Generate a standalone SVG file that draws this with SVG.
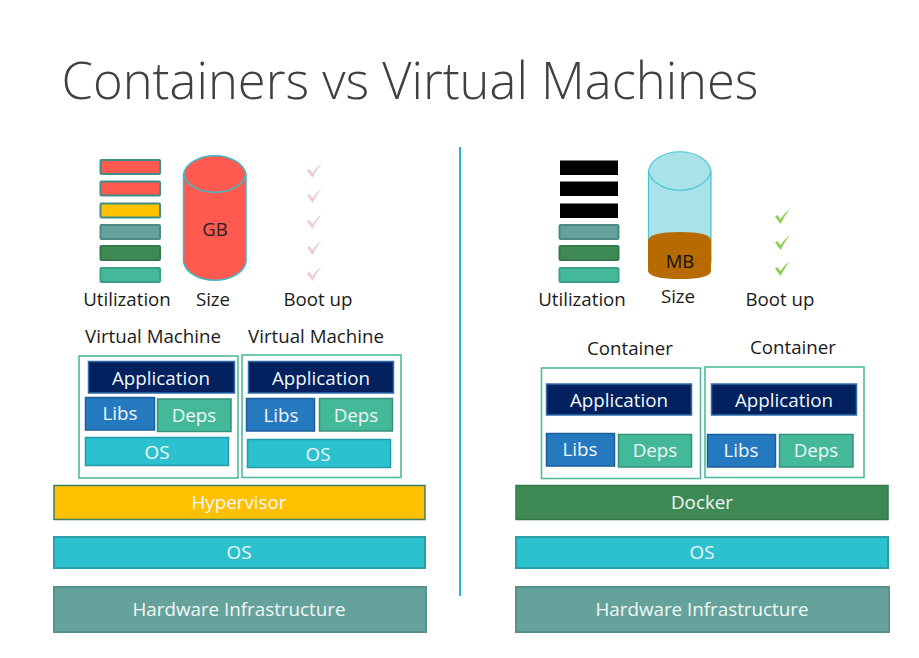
<svg xmlns="http://www.w3.org/2000/svg" width="919" height="658" viewBox="0 0 919 658">
<style>
text{font-family:"Open Sans","Noto Sans","Liberation Sans",sans-serif;text-anchor:middle}
.w{fill:#f2f8f8;font-size:18.800px}
.k{fill:#1a1a1a;font-size:18.700px}
.red{fill:#fe5a50;stroke:#3f8f86;stroke-width:2}
.yel{fill:#ffc000;stroke:#3f8f86;stroke-width:2}
.gry{fill:#66a29c;stroke:#4e8a85;stroke-width:2}
.grn{fill:#3f8955;stroke:#35794a;stroke-width:2}
.tea{fill:#44b999;stroke:#3a9f87;stroke-width:2}
.blk{fill:#000}
.app{fill:#03205f;stroke:#2f6ea8;stroke-width:1.500}
.lib{fill:#2579bf;stroke:#1c5f9c;stroke-width:1.500}
.dep{fill:#44b999;stroke:#35907c;stroke-width:1.500}
.os{fill:#2bc1cf;stroke:#239aa8;stroke-width:1.500}
.box{fill:#fff;stroke:#4fbb9e;stroke-width:1.600}
.ck{stroke:none}
</style>
<defs>
<path id="tick" d="M0 7.500 L2.500 6 L5.500 10 Q9.500 4 15 0 Q10 6 5.500 15 Z"/>
</defs>
<rect width="919" height="658" fill="#fff"/>
<text x="410" y="99" style="font-size:50.700px;font-weight:300;fill:#404040">Containers vs Virtual Machines</text>
<g id="connectors"><line x1="460" y1="147" x2="460" y2="596" stroke="#2bb5c8" stroke-width="2"/></g>

<g id="vm-utilization">
<rect class="red" x="100.500" y="160" width="59.500" height="14" rx="1"/>
<rect class="red" x="100.500" y="181.500" width="59.500" height="14" rx="1"/>
<rect class="yel" x="100.500" y="203.500" width="59.500" height="14" rx="1"/>
<rect class="gry" x="100.500" y="225" width="59.500" height="14" rx="1"/>
<rect class="grn" x="100.500" y="246" width="59.500" height="14" rx="1"/>
<rect class="tea" x="100.500" y="268" width="59.500" height="14" rx="1"/>
<text class="k" x="127" y="306">Utilization</text>
</g>
<g id="vm-size">
<path d="M183.500 174 A31.500 21 0 0 1 246 174 V262 A31.500 21 0 0 1 183.500 262 Z" fill="#fe5a50" stroke="#3cbcc6" stroke-width="1.500"/>
<path d="M183.500 174 A31.500 21 0 0 0 246 174" fill="none" stroke="#3cbcc6" stroke-width="1.500"/>
<text x="215" y="236" style="font-size:18.500px;fill:#222">GB</text>
<text class="k" x="213" y="306">Size</text>
</g>
<g id="vm-bootup" fill="#eecbd8">
<use class="ck" href="#tick" x="307" y="163"/>
<use class="ck" href="#tick" x="307" y="188"/>
<use class="ck" href="#tick" x="307" y="214"/>
<use class="ck" href="#tick" x="307" y="240"/>
<use class="ck" href="#tick" x="307" y="266"/>
<text class="k" x="318" y="306">Boot up</text>
</g>

<g id="vm-1">
<text class="k" x="153" y="343">Virtual Machine</text>
<rect class="box" x="79" y="356" width="159" height="122"/>
<rect class="app" x="88.500" y="361.500" width="146" height="31.500"/>
<text class="w" x="161" y="384.500">Application</text>
<rect class="lib" x="85.500" y="397.500" width="69" height="32.500"/>
<text class="w" x="120" y="420">Libs</text>
<rect class="dep" x="157.500" y="399" width="73.500" height="32.500"/>
<text class="w" x="194" y="422">Deps</text>
<rect class="os" x="85.500" y="437.500" width="143" height="28"/>
<text class="w" x="157" y="458.500">OS</text>
</g>
<g id="vm-2">
<text class="k" x="316" y="343">Virtual Machine</text>
<rect class="box" x="242" y="355" width="159" height="122.500"/>
<rect class="app" x="248.500" y="361.500" width="145" height="31.500"/>
<text class="w" x="321" y="384.500">Application</text>
<rect class="lib" x="246.500" y="398.500" width="68" height="32.500"/>
<text class="w" x="281" y="422">Libs</text>
<rect class="dep" x="319.500" y="398.500" width="73" height="32.500"/>
<text class="w" x="356" y="422">Deps</text>
<rect class="os" x="247.500" y="439.500" width="143" height="28"/>
<text class="w" x="318" y="461">OS</text>
</g>

<g id="hypervisor">
<rect x="54" y="485.500" width="371" height="34" fill="#ffc000" stroke="#3f7f66" stroke-width="1.500"/>
<text class="w" x="239" y="509">Hypervisor</text>
</g>
<g id="os-left">
<rect x="54" y="537" width="371" height="31" fill="#2bc1cf" stroke="#2a9fa8" stroke-width="2"/>
<text class="w" x="239" y="559">OS</text>
</g>
<g id="hw-left">
<rect x="54" y="587" width="372" height="45" fill="#66a29c" stroke="#56918c" stroke-width="2"/>
<text class="w" x="239" y="616">Hardware Infrastructure</text>
</g>

<g id="ct-utilization">
<rect class="blk" x="560" y="160.500" width="58" height="14.500"/>
<rect class="blk" x="560" y="181.500" width="58" height="14.500"/>
<rect class="blk" x="560" y="203.500" width="58" height="14.500"/>
<rect class="gry" x="559.500" y="225" width="59" height="14" rx="1"/>
<rect class="grn" x="559.500" y="246" width="59" height="14" rx="1"/>
<rect class="tea" x="559.500" y="268" width="59" height="14" rx="1"/>
<text class="k" x="582" y="306">Utilization</text>
</g>
<g id="ct-size">
<path d="M648.500 171 A31.500 22 0 0 1 711 171 V262 A31.500 16 0 0 1 648.500 262 Z" fill="#a9e3e9" stroke="#46c5d2" stroke-width="1.200"/>
<path d="M648.500 171 A31.500 22 0 0 0 711 171" fill="none" stroke="#46c5d2" stroke-width="1.200"/>
<path d="M648 240 Q650 232 680 232 Q710 232 711 240 V271 Q710 279 680 279 Q650 279 648 271 Z" fill="#b76a00"/>
<text x="680" y="268" style="font-size:18.500px;fill:#111">MB</text>
<text class="k" x="678" y="303">Size</text>
</g>
<g id="ct-bootup" fill="#8fcf57">
<use class="ck" href="#tick" x="775" y="209"/>
<use class="ck" href="#tick" x="775" y="235"/>
<use class="ck" href="#tick" x="775" y="261"/>
<text class="k" x="780" y="306">Boot up</text>
</g>

<g id="ct-1">
<text class="k" x="630" y="355">Container</text>
<rect class="box" x="541.500" y="368" width="159" height="110.500"/>
<rect class="app" x="546.500" y="384" width="145" height="31"/>
<text class="w" x="619" y="406.500">Application</text>
<rect class="lib" x="546.500" y="433.500" width="68" height="32.500"/>
<text class="w" x="580" y="456">Libs</text>
<rect class="dep" x="618.500" y="434.500" width="73" height="32.500"/>
<text class="w" x="655" y="457">Deps</text>
</g>
<g id="ct-2">
<text class="k" x="793" y="354">Container</text>
<rect class="box" x="705" y="367" width="159" height="110.500"/>
<rect class="app" x="711.500" y="384" width="145" height="31"/>
<text class="w" x="784" y="406.500">Application</text>
<rect class="lib" x="707.500" y="434.500" width="68" height="32.500"/>
<text class="w" x="741" y="457">Libs</text>
<rect class="dep" x="779.500" y="434.500" width="73.500" height="32.500"/>
<text class="w" x="816" y="457">Deps</text>
</g>

<g id="docker">
<rect x="516" y="485.500" width="372" height="34" fill="#3f8955" stroke="#357a4a" stroke-width="1.500"/>
<text class="w" x="702" y="509">Docker</text>
</g>
<g id="os-right">
<rect x="516" y="537" width="372" height="31" fill="#2bc1cf" stroke="#2a9fa8" stroke-width="2"/>
<text class="w" x="702" y="559">OS</text>
</g>
<g id="hw-right">
<rect x="516" y="587" width="373" height="45" fill="#66a29c" stroke="#56918c" stroke-width="2"/>
<text class="w" x="702" y="616">Hardware Infrastructure</text>
</g>
</svg>
